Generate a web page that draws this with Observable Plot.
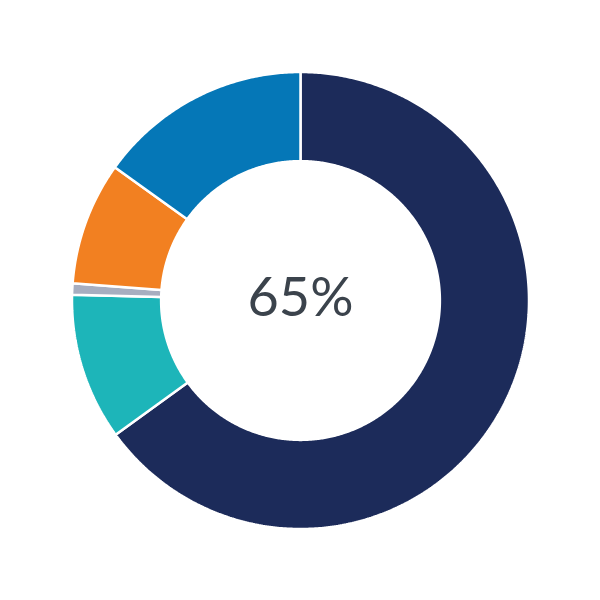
<!DOCTYPE html>
<html>
<head>
<meta charset="utf-8">
<script src="https://cdn.jsdelivr.net/npm/d3@7"></script>
<script src="https://cdn.jsdelivr.net/npm/@observablehq/plot@0.6"></script>
<style>
  html, body { margin: 0; padding: 0; background: #fff; }
  #chart { width: 600px; height: 600px; }
</style>
</head>
<body>
<div id="chart"></div>
<script>
// Slices, clockwise from 12 o'clock
const categories = ["A", "B", "C", "D", "E"];
const values = [65, 10.4, 0.8, 8.7, 15.1];
const colors = ["#1c2b5a", "#1db5b9", "#a7aec0", "#f28021", "#0577b7"];
const centerLabel = ["65%"];

const innerRatio = 0.61;
const total = d3.sum(values);

// Build donut-slice polygons in unit space from cumulative values
let acc = 0;
const features = values.map((v, i) => {
  const a0 = (acc / total) * 2 * Math.PI;
  acc += v;
  const a1 = (acc / total) * 2 * Math.PI;
  const n = Math.max(2, Math.ceil((a1 - a0) / (Math.PI / 360)));
  const outer = [], inner = [];
  for (let k = 0; k <= n; k++) {
    const a = a0 + (a1 - a0) * k / n;
    outer.push([Math.sin(a), Math.cos(a)]);
    inner.push([innerRatio * Math.sin(a), innerRatio * Math.cos(a)]);
  }
  const ring = outer.concat(inner.reverse());
  ring.push(ring[0]);
  return {
    type: "Feature",
    properties: {category: categories[i], value: v},
    geometry: {type: "Polygon", coordinates: [ring]}
  };
});

const domain = {
  type: "Polygon",
  coordinates: [[[-1, -1], [1, -1], [1, 1], [-1, 1], [-1, -1]]]
};

const chart = Plot.plot({
  width: 600,
  height: 600,
  margin: 0,
  projection: {type: "reflect-y", domain, inset: 71.5},
  color: {domain: categories, range: colors},
  marks: [
    Plot.geo(features, {
      fill: d => d.properties.category,
      stroke: "white",
      strokeWidth: 2.5,
      strokeLinejoin: "miter"
    }),
    Plot.text(centerLabel, {
      frameAnchor: "middle",
      text: d => d,
      fontSize: 54,
      fontFamily: "Lato",
      fill: "#3b434c",
      dy: -2
    })
  ]
});

document.getElementById("chart").appendChild(chart);
</script>
</body>
</html>
